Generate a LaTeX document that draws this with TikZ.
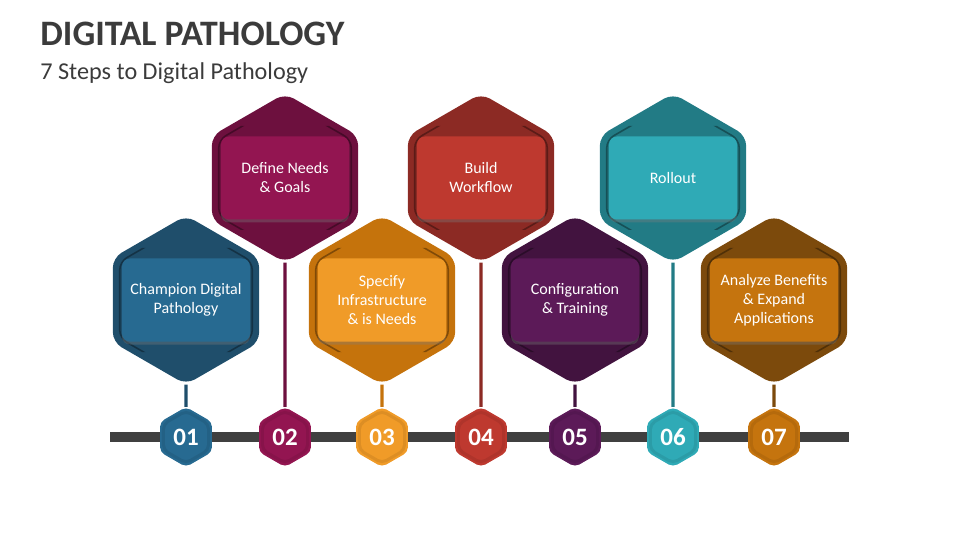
\documentclass[tikz,border=0pt]{standalone}
\usepackage{fontspec}
\setmainfont{Carlito}
\usetikzlibrary{shapes.geometric,shadows}

\definecolor{titlegray}{HTML}{3B3B3B}
\definecolor{bargray}{HTML}{404040}
\definecolor{oneDark}{HTML}{1F4E6B}   \definecolor{oneLight}{HTML}{276A91}
\definecolor{twoDark}{HTML}{6D103E}   \definecolor{twoLight}{HTML}{931551}
\definecolor{threeDark}{HTML}{C5730C} \definecolor{threeLight}{HTML}{F09B28}
\definecolor{fourDark}{HTML}{8C2A24}  \definecolor{fourLight}{HTML}{BE392F}
\definecolor{fiveDark}{HTML}{42133F}  \definecolor{fiveLight}{HTML}{5C1A58}
\definecolor{sixDark}{HTML}{227B85}   \definecolor{sixLight}{HTML}{2FAAB6}
\definecolor{sevenDark}{HTML}{7C4A0C} \definecolor{sevenLight}{HTML}{C5740E}

\begin{document}
\begin{tikzpicture}[x=0.5pt,y=-0.5pt,%
  hexshape/.style={regular polygon,regular polygon sides=6,%
    shape border rotate=30,inner sep=0pt,outer sep=0pt},%
  stephex/.style={hexshape,minimum size=84.5pt,rounded corners=5pt,%
    fill=#1,path picture={%
      \clip ([shift={(-50pt,-26pt)}]path picture bounding box.center)
        rectangle ([shift={(50pt,26pt)}]path picture bounding box.center);
      \node[hexshape,minimum size=76.5pt,rounded corners=4pt,fill=none,%
        draw=black,draw opacity=0.35,line width=0.8pt]
        at (path picture bounding box.center) {};}},%
  stepbox/.style={rectangle,rounded corners=4pt,minimum width=64pt,%
    minimum height=41.5pt,fill=#1,text=white,align=center,%
    font=\fontsize{8}{9.5}\selectfont,%
    drop shadow={shadow xshift=0pt,shadow yshift=-1.5pt,opacity=0.35}},%
  numhex/.style={hexshape,minimum size=30pt,rounded corners=2.5pt,%
    fill=#1,text=white,font=\bfseries\fontsize{12.5}{14}\selectfont,%
    path picture={%
      \node[hexshape,minimum size=26pt,fill=none,draw=black,%
        draw opacity=0.08,line width=1.5pt]
        at (path picture bounding box.center) {};}},%
  link/.style={draw=#1,line width=1.6pt}]

  \useasboundingbox (0,0) rectangle (960,540);

  \node[anchor=base west,inner sep=0pt,text=titlegray,%
    font=\bfseries\fontsize{17.9}{22}\selectfont] (title) at (40,46)
    {DIGITAL PATHOLOGY};
  \node[anchor=base west,inner sep=0pt,text=titlegray,%
    font=\fontsize{12.1}{15}\selectfont] (subtitle) at (40,80)
    {7 Steps to Digital Pathology};

  % timeline
  \coordinate (barL) at (110,437);
  \coordinate (barR) at (849,437);
  \draw[bargray,line width=5pt] (barL) -- (barR);

  % step 1
  \node[stephex=oneDark] (hex1) at (186,300) {};
  \node[stepbox=oneLight] (box1) at (hex1.center) {Champion Digital\\Pathology};
  \node[numhex=oneLight] (num1) at (186,437) {01};
  \draw[link=oneDark] (hex1.south) -- (num1.north);

  % step 2
  \node[stephex=twoDark] (hex2) at (285,178) {};
  \node[stepbox=twoLight] (box2) at (hex2.center) {Define Needs\\\& Goals};
  \node[numhex=twoLight] (num2) at (285,437) {02};
  \draw[link=twoDark] (hex2.south) -- (num2.north);

  % step 3
  \node[stephex=threeDark] (hex3) at (382,300) {};
  \node[stepbox=threeLight] (box3) at (hex3.center) {Specify\\Infrastructure\\\& is Needs};
  \node[numhex=threeLight] (num3) at (382,437) {03};
  \draw[link=threeDark] (hex3.south) -- (num3.north);

  % step 4
  \node[stephex=fourDark] (hex4) at (481,178) {};
  \node[stepbox=fourLight] (box4) at (hex4.center) {Build\\Workflow};
  \node[numhex=fourLight] (num4) at (481,437) {04};
  \draw[link=fourDark] (hex4.south) -- (num4.north);

  % step 5
  \node[stephex=fiveDark] (hex5) at (575,300) {};
  \node[stepbox=fiveLight] (box5) at (hex5.center) {Configuration\\\& Training};
  \node[numhex=fiveLight] (num5) at (575,437) {05};
  \draw[link=fiveDark] (hex5.south) -- (num5.north);

  % step 6
  \node[stephex=sixDark] (hex6) at (673,178) {};
  \node[stepbox=sixLight] (box6) at (hex6.center) {Rollout};
  \node[numhex=sixLight] (num6) at (673,437) {06};
  \draw[link=sixDark] (hex6.south) -- (num6.north);

  % step 7
  \node[stephex=sevenDark] (hex7) at (774,300) {};
  \node[stepbox=sevenLight] (box7) at (hex7.center) {Analyze Benefits\\\& Expand\\Applications};
  \node[numhex=sevenLight] (num7) at (774,437) {07};
  \draw[link=sevenDark] (hex7.south) -- (num7.north);
\end{tikzpicture}
\end{document}
